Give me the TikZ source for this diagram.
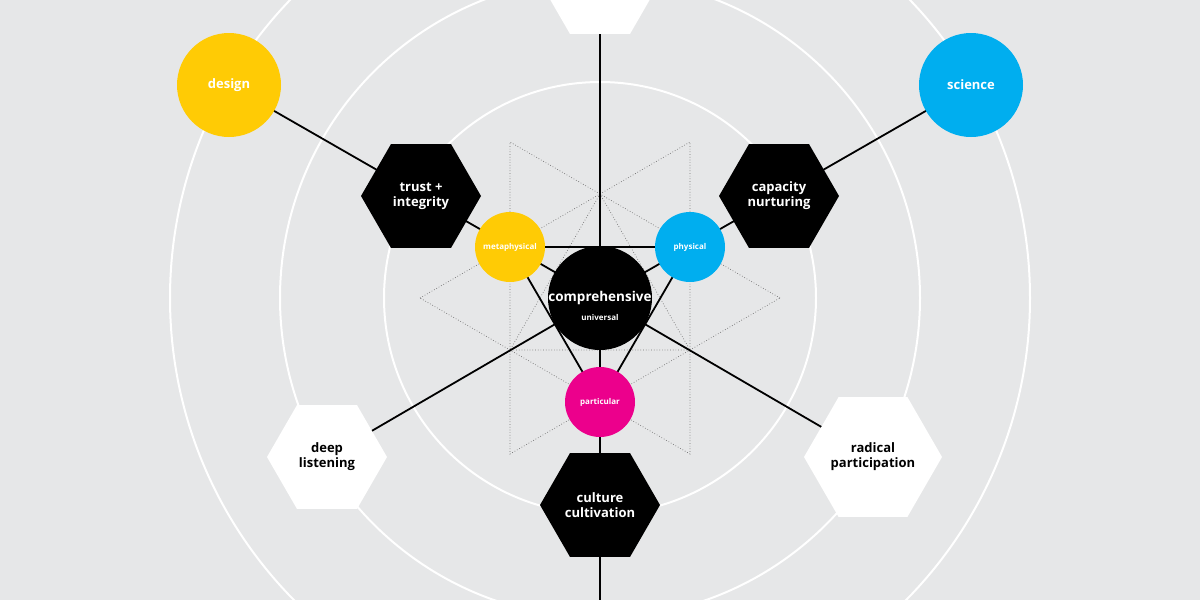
\documentclass[tikz,border=0pt]{standalone}
\usepackage{fontspec}
\setmainfont{Open Sans}
\usetikzlibrary{shapes.geometric}
\definecolor{bg}{HTML}{E6E7E8}
\definecolor{yel}{HTML}{FFCB05}
\definecolor{cya}{HTML}{00AEEF}
\definecolor{mag}{HTML}{EC008C}
\tikzset{
 ring/.style={draw=white,line width=2pt},
 guide/.style={draw=black!55,dotted,line width=0.7pt},
 link/.style={draw=black,line width=1.8pt},
 hexa/.style={regular polygon,regular polygon sides=6,minimum size=120pt,inner sep=0pt,align=center,font=\bfseries\fontsize{13}{15}\selectfont},
 bhex/.style={hexa,fill=black,text=white},
 whex/.style={hexa,fill=white,text=black},
 big/.style={circle,minimum size=104pt,inner sep=0pt,text=white,font=\bfseries\fontsize{13}{15}\selectfont},
 small/.style={circle,minimum size=70pt,inner sep=0pt,text=white,font=\bfseries\fontsize{8}{10}\selectfont},
}
\begin{document}
\begin{tikzpicture}[x=1pt,y=-1pt]
\useasboundingbox (0,0) rectangle (1200,600);
\clip (0,0) rectangle (1200,600);
\fill[bg] (0,0) rectangle (1200,600);
\coordinate (cc) at (600,298);
\coordinate (pdesign) at (229,85);
\coordinate (pscience) at (971,85);
\coordinate (ptrust) at (421,196);
\coordinate (pcap) at (779,196);
\coordinate (pdeep) at (327,457);
\coordinate (prad) at (873,457);
\coordinate (pcult) at (600,505);
\coordinate (ptop) at (600,-18);
\coordinate (pmeta) at (510,247);
\coordinate (pphys) at (690,247);
\coordinate (ppart) at (600,402);
\coordinate (pbot) at (600,600);
% rings
\foreach \r in {216,320,430} \draw[ring] (cc) circle (\r);
% guides
\draw[guide] (780,298) -- (510,142) -- (510,454) -- cycle;
\draw[guide] (420,298) -- (690,142) -- (690,454) -- cycle;
\draw[guide] (600,194) -- (510,350) -- (690,350) -- cycle;
% links
\draw[link] (ptop) -- (pbot);
\draw[link] (cc) -- (pdesign);
\draw[link] (cc) -- (pscience);
\draw[link] (cc) -- (pdeep);
\draw[link] (cc) -- (prad);
\draw[link] (pmeta) -- (pphys) -- (ppart) -- cycle;
% nodes
\node[whex] (top) at (ptop) {};
\node[big,fill=yel] (design) at (pdesign) {design};
\node[big,fill=cya] (science) at (pscience) {science};
\node[bhex] (trust) at (ptrust) {trust +\\integrity};
\node[bhex] (cap) at (pcap) {capacity\\nurturing};
\node[whex] (deep) at (pdeep) {deep\\listening};
\node[whex] (rad) at (prad) {radical\\participation};
\node[bhex] (cult) at (pcult) {culture\\cultivation};
\node[small,fill=yel] (meta) at (pmeta) {metaphysical};
\node[small,fill=cya] (phys) at (pphys) {physical};
\node[small,fill=mag] (part) at (ppart) {particular};
\node[circle,fill=black,minimum size=104pt,inner sep=0pt] (comp) at (cc) {};
\node[text=white,font=\bfseries\fontsize{13.5}{15}\selectfont] (ct) at (600,298) {comprehensive};
\node[text=white,font=\bfseries\fontsize{8}{10}\selectfont] (cu) at (600,317) {universal};
\end{tikzpicture}
\end{document}
